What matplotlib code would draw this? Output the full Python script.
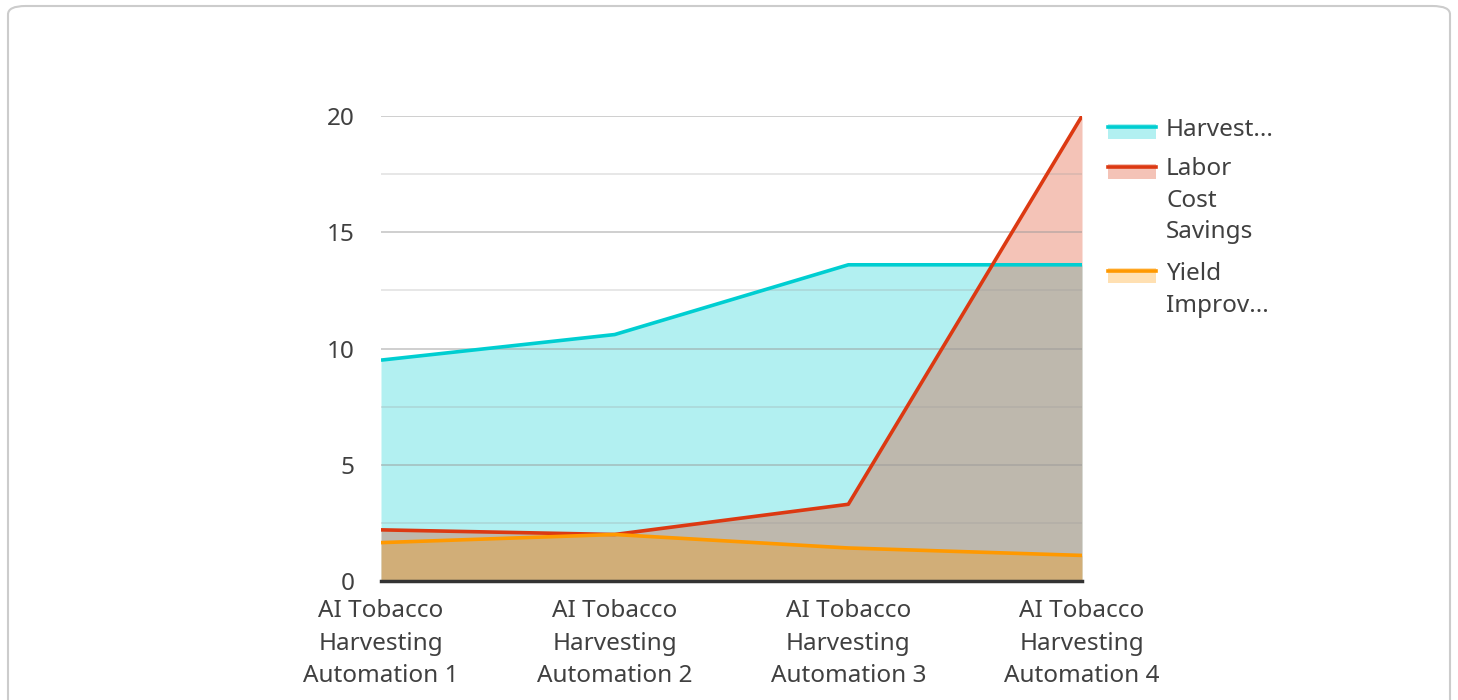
import numpy as np
import matplotlib.pyplot as plt
from matplotlib.patches import FancyBboxPatch, Rectangle
from matplotlib.lines import Line2D

plt.rcParams['font.family'] = ['Noto Sans', 'DejaVu Sans']

# Data
categories = ['AI Tobacco\nHarvesting\nAutomation 1', 'AI Tobacco\nHarvesting\nAutomation 2',
              'AI Tobacco\nHarvesting\nAutomation 3', 'AI Tobacco\nHarvesting\nAutomation 4']
harvest = [9.5, 10.6, 13.6, 13.6]
labor = [2.2, 2.0, 3.3, 20.0]
yield_imp = [1.65, 2.0, 1.42, 1.1]

series_names = ['Harvest...', 'Labor\nCost\nSavings', 'Yield\nImprov...']
series_data = [harvest, labor, yield_imp]
colors = ['#00CED1', '#DC3912', '#FF9900']

text_color = '#404040'
fs = 17.5

fig = plt.figure(figsize=(14.58, 7), dpi=100)
ax = fig.add_axes([381 / 1458, 1 - 581 / 700, (1082 - 381) / 1458, (581 - 116) / 700])

x = np.arange(len(categories))
for vals, c in zip(series_data, colors):
    ax.fill_between(x, 0, vals, color=c, alpha=0.3, linewidth=0, zorder=1)
for vals, c in zip(series_data, colors):
    ax.plot(x, vals, color=c, linewidth=2.6, zorder=4, solid_capstyle='butt')

ax.set_xlim(0, 3)
ax.set_ylim(0, 20)
ax.set_yticks([0, 5, 10, 15, 20])
ax.set_yticks([2.5, 7.5, 12.5, 17.5], minor=True)
ax.grid(True, which='major', axis='y', color='#999999', alpha=0.55, linewidth=1.2, zorder=2)
ax.grid(True, which='minor', axis='y', color='#999999', alpha=0.28, linewidth=1.2, zorder=2)
ax.set_axisbelow(False)
ax.set_xticks(x)
ax.set_xticklabels(categories, fontsize=fs, color=text_color, linespacing=1.48)
ax.tick_params(axis='both', which='both', length=0, labelcolor=text_color, labelsize=fs)
ax.tick_params(axis='y', pad=19)
ax.tick_params(axis='x', pad=13)
for s in ['top', 'right', 'left']:
    ax.spines[s].set_visible(False)
ax.spines['bottom'].set_color('#333333')
ax.spines['bottom'].set_linewidth(2.5)
ax.spines['bottom'].set_zorder(5)

# Legend drawn manually
leg_x0, leg_w = 1108 / 1458, 48 / 1458
leg_rows = [128, 168, 272]
text_shift = [3, 2, 3]
for name, c, ty, dy in zip(series_names, colors, leg_rows, text_shift):
    yb = 1 - (ty + 11) / 700
    fig.patches.append(Rectangle((leg_x0, yb), leg_w, 15 / 700, transform=fig.transFigure,
                                 facecolor=c, alpha=0.3, edgecolor='none'))
    fig.lines.append(Line2D([leg_x0, leg_x0 + leg_w], [1 - (ty - 1) / 700] * 2,
                            transform=fig.transFigure, color=c, linewidth=2.6))
    fig.text(1166 / 1458, 1 - (ty - 13 + dy) / 700, name, fontsize=fs, color=text_color,
             va='top', ha='left', linespacing=1.42)

# Card border
fig.patches.append(FancyBboxPatch((8 / 1458, -0.05), 1442 / 1458, 1 - 6 / 700 + 0.05,
                                  boxstyle='round,pad=0,rounding_size=0.012',
                                  transform=fig.transFigure, facecolor='none',
                                  edgecolor='#cccccc', linewidth=1.5))

fig.savefig('out.png', dpi=100)
